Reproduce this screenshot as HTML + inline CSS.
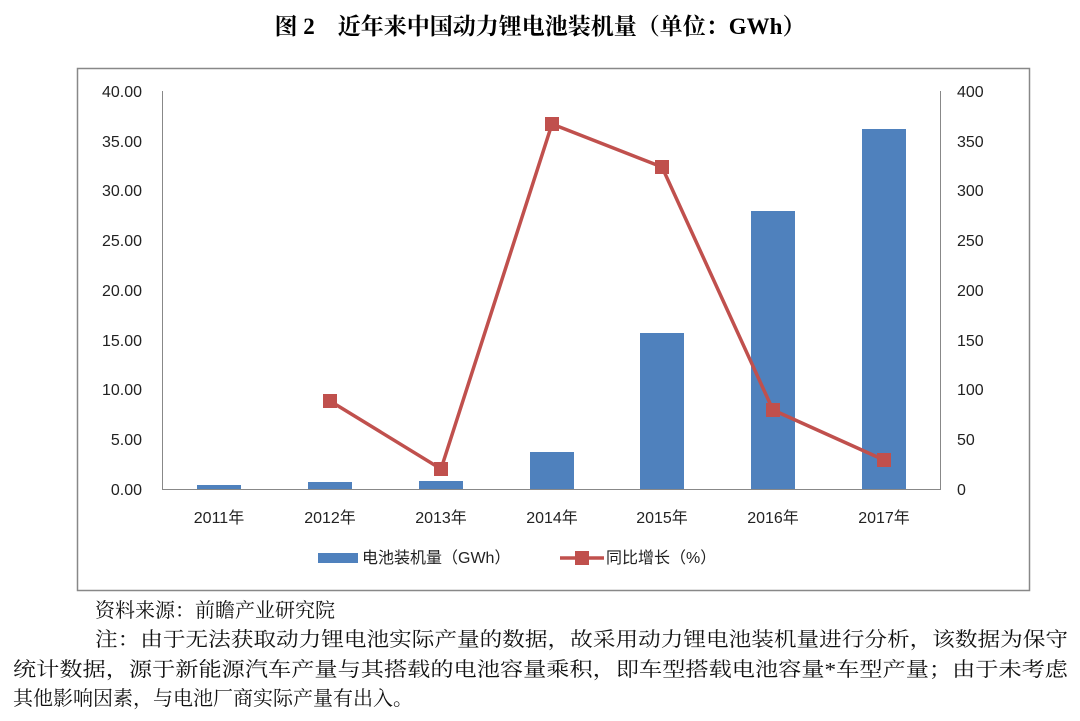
<!DOCTYPE html>
<html><head><meta charset="utf-8"><style>body{margin:0;background:#fff}svg{display:block}</style></head><body>
<svg width="1080" height="721" xmlns="http://www.w3.org/2000/svg" font-family="Liberation Sans, Noto Sans CJK SC, sans-serif">
<rect width="1080" height="721" fill="#fff"/>
<text x="540" y="34" text-anchor="middle" font-size="23" font-weight="bold" font-family="Liberation Serif, Noto Serif CJK SC, serif">图 2　近年来中国动力锂电池装机量（单位：GWh）</text>
<rect x="77.5" y="68.5" width="952" height="522" fill="#fff" stroke="#888" stroke-width="1.5"/>
<g stroke="#888" stroke-width="1">
<line x1="162.5" y1="91" x2="162.5" y2="489"/><line x1="940.5" y1="91" x2="940.5" y2="489"/>
<line x1="162" y1="489.5" x2="941" y2="489.5"/>
</g>
<g font-size="16" fill="#222" text-anchor="end">
<text x="142" y="495">0.00</text><text x="142" y="445">5.00</text><text x="142" y="395">10.00</text><text x="142" y="346">15.00</text><text x="142" y="296">20.00</text><text x="142" y="246">25.00</text><text x="142" y="196">30.00</text><text x="142" y="147">35.00</text><text x="142" y="97">40.00</text>
</g>
<g font-size="16" fill="#222" text-anchor="start">
<text x="957" y="495">0</text><text x="957" y="445">50</text><text x="957" y="395">100</text><text x="957" y="346">150</text><text x="957" y="296">200</text><text x="957" y="246">250</text><text x="957" y="196">300</text><text x="957" y="147">350</text><text x="957" y="97">400</text>
</g>
<g fill="#4f81bd">
<rect x="197" y="485" width="44" height="4"/>
<rect x="308" y="482" width="44" height="7"/>
<rect x="419" y="481" width="44" height="8"/>
<rect x="530" y="452" width="44" height="37"/>
<rect x="640" y="333" width="44" height="156"/>
<rect x="751" y="211" width="44" height="278"/>
<rect x="862" y="129" width="44" height="360"/>
</g>
<polyline points="330,401 441,469 552,124 662,167 773,410 884,460" fill="none" stroke="#c0504d" stroke-width="3.5"/>
<g fill="#c0504d">
<rect x="323" y="394" width="14" height="14"/><rect x="434" y="462" width="14" height="14"/><rect x="545" y="117" width="14" height="14"/><rect x="655" y="160" width="14" height="14"/><rect x="766" y="403" width="14" height="14"/><rect x="877" y="453" width="14" height="14"/>
</g>
<g font-size="16" fill="#222" text-anchor="middle">
<text x="219" y="523">2011年</text><text x="330" y="523">2012年</text><text x="441" y="523">2013年</text><text x="552" y="523">2014年</text><text x="662" y="523">2015年</text><text x="773" y="523">2016年</text><text x="884" y="523">2017年</text>
</g>
<rect x="318" y="553" width="40" height="10" fill="#4f81bd"/>
<text x="362" y="563" font-size="16" fill="#222">电池装机量（GWh）</text>
<line x1="560" y1="558" x2="604" y2="558" stroke="#c0504d" stroke-width="3.5"/>
<rect x="575" y="551" width="14" height="14" fill="#c0504d"/>
<text x="606" y="563" font-size="16" fill="#222">同比增长（%）</text>
<g font-size="20" fill="#111" font-family="Liberation Serif, Noto Serif CJK SC, serif">
<text x="95" y="617">资料来源：前瞻产业研究院</text>
<text x="95" y="646" textLength="973" lengthAdjust="spacingAndGlyphs">注：由于无法获取动力锂电池实际产量的数据，故采用动力锂电池装机量进行分析，该数据为保守</text>
<text x="13" y="676" textLength="1055" lengthAdjust="spacingAndGlyphs">统计数据，源于新能源汽车产量与其搭载的电池容量乘积，即车型搭载电池容量*车型产量；由于未考虑</text>
<text x="13" y="705">其他影响因素，与电池厂商实际产量有出入。</text>
</g>
</svg>
</body></html>
